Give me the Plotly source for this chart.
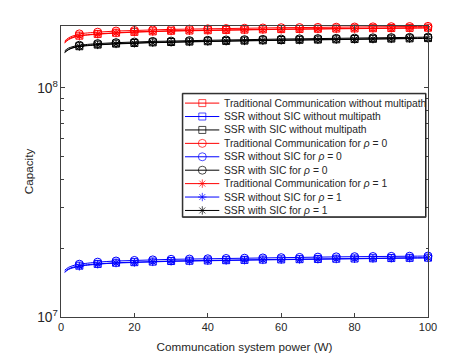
import plotly.graph_objects as go

# x positions (W)
power = [1, 2, 3, 4, 5, 10, 15, 20, 25, 30, 35, 40, 45, 50, 55, 60, 65, 70, 75, 80, 85, 90, 95, 100]

# Traditional communication (x1e8)
trad_nomp = [1.58, 1.63, 1.66, 1.68, 1.69, 1.72, 1.74, 1.755, 1.765, 1.775, 1.78, 1.785, 1.79, 1.795, 1.80, 1.805, 1.808, 1.811, 1.815, 1.818, 1.821, 1.824, 1.827, 1.83]
trad_rho0 = [1.60, 1.65, 1.68, 1.70, 1.72, 1.75, 1.77, 1.78, 1.79, 1.80, 1.805, 1.81, 1.815, 1.82, 1.825, 1.83, 1.833, 1.836, 1.84, 1.843, 1.846, 1.849, 1.852, 1.855]
trad_rho1 = [1.57, 1.62, 1.65, 1.67, 1.685, 1.715, 1.735, 1.75, 1.76, 1.77, 1.775, 1.78, 1.785, 1.79, 1.795, 1.80, 1.803, 1.806, 1.81, 1.813, 1.816, 1.819, 1.822, 1.825]

# SSR with SIC (x1e8)
sic_nomp = [1.43, 1.47, 1.495, 1.51, 1.52, 1.545, 1.56, 1.57, 1.58, 1.585, 1.592, 1.598, 1.603, 1.608, 1.613, 1.617, 1.621, 1.625, 1.629, 1.633, 1.637, 1.641, 1.645, 1.649]
sic_rho0 = [1.45, 1.49, 1.51, 1.525, 1.535, 1.56, 1.575, 1.585, 1.595, 1.60, 1.607, 1.613, 1.618, 1.623, 1.628, 1.633, 1.637, 1.641, 1.645, 1.649, 1.653, 1.657, 1.661, 1.665]
sic_rho1 = [1.425, 1.465, 1.49, 1.505, 1.515, 1.54, 1.555, 1.565, 1.575, 1.58, 1.587, 1.593, 1.598, 1.603, 1.608, 1.612, 1.616, 1.62, 1.624, 1.628, 1.632, 1.636, 1.64, 1.644]

# SSR without SIC (x1e7)
nosic_nomp = [1.575, 1.62, 1.645, 1.66, 1.675, 1.705, 1.725, 1.735, 1.745, 1.755, 1.76, 1.765, 1.77, 1.775, 1.78, 1.784, 1.788, 1.792, 1.796, 1.80, 1.804, 1.808, 1.812, 1.815]
nosic_rho0 = [1.60, 1.645, 1.67, 1.69, 1.70, 1.735, 1.755, 1.765, 1.775, 1.785, 1.79, 1.795, 1.80, 1.805, 1.81, 1.815, 1.82, 1.825, 1.83, 1.833, 1.836, 1.839, 1.842, 1.845]
nosic_rho1 = [1.565, 1.61, 1.635, 1.65, 1.665, 1.70, 1.72, 1.73, 1.74, 1.75, 1.755, 1.76, 1.765, 1.77, 1.775, 1.779, 1.783, 1.787, 1.791, 1.795, 1.799, 1.803, 1.807, 1.81]

series = [
    ("Traditional Communication without multipath", trad_nomp, 1e8, "#ff0000", "square-open"),
    ("SSR without SIC without multipath", nosic_nomp, 1e7, "#0000ff", "square-open"),
    ("SSR with SIC without multipath", sic_nomp, 1e8, "#000000", "square-open"),
    ("Traditional Communication for <i>ρ</i> = 0", trad_rho0, 1e8, "#ff0000", "circle-open"),
    ("SSR without SIC for <i>ρ</i> = 0", nosic_rho0, 1e7, "#0000ff", "circle-open"),
    ("SSR with SIC for <i>ρ</i> = 0", sic_rho0, 1e8, "#000000", "circle-open"),
    ("Traditional Communication for <i>ρ</i> = 1", trad_rho1, 1e8, "#ff0000", "asterisk-open"),
    ("SSR without SIC for <i>ρ</i> = 1", nosic_rho1, 1e7, "#0000ff", "asterisk-open"),
    ("SSR with SIC for <i>ρ</i> = 1", sic_rho1, 1e8, "#000000", "asterisk-open"),
]

FONT = "Liberation Sans, Arial, sans-serif"
TXT = "#262626"


def msize(sym):
    return 8 if sym == "circle-open" else 7


fig = go.Figure()
for name, vals, scale, color, sym in series:
    y = [v * scale for v in vals]
    fig.add_trace(go.Scatter(x=power, y=y, mode="lines", line=dict(color=color, width=1, shape="spline"),
                             showlegend=False, hoverinfo="skip", cliponaxis=False))
    xm = [p for p in power if p % 5 == 0]
    ym = [v for p, v in zip(power, y) if p % 5 == 0]
    fig.add_trace(go.Scatter(x=xm, y=ym, mode="markers", name=name, showlegend=False, cliponaxis=False,
                             marker=dict(symbol=sym, size=msize(sym), color=color,
                                         line=dict(color=color, width=1))))

# plot area: page x 61..428, y 26..317 (page has an 8px body margin)
PW, PH = 367.0, 291.0
L, T = 53, 18

# ---- compact legend box (MATLAB style), auxiliary axis in pixel units ----
BOX_W, BOX_H = 243.7, 124.0
PAD = 2.0
bx0 = (182.3 - 8 - L) / PW
bx1 = min(1.0, (426.0 - 8 - L) / PW)
by1 = 1 - (93.3 - 8 - T) / PH
by0 = 1 - (217.3 - 8 - T) / PH
fig.add_shape(type="rect", xref="paper", yref="paper", x0=bx0, x1=bx1, y0=by0, y1=by1,
              line=dict(color=TXT, width=1), layer="above")
fig.add_trace(go.Scatter(x=[0.5, BOX_W - 0.5, BOX_W - 0.5, 0.5, 0.5],
                         y=[0.5, 0.5, BOX_H - 0.5, BOX_H - 0.5, 0.5], mode="lines",
                         line=dict(color=TXT, width=1), xaxis="x2", yaxis="y2",
                         showlegend=False, hoverinfo="skip"))
row0, rowstep = 9.8, 13.42
for i, (name, vals, scale, color, sym) in enumerate(series):
    ry = row0 + i * rowstep
    fig.add_trace(go.Scatter(x=[2.7, 20, 37], y=[ry, ry, ry], mode="lines+markers",
                             line=dict(color=color, width=1),
                             marker=dict(symbol=sym, size=[0, msize(sym), 0], color=color,
                                         line=dict(color=color, width=1)),
                             xaxis="x2", yaxis="y2", showlegend=False, hoverinfo="skip"))
    fig.add_annotation(x=40, y=ry, xref="x2", yref="y2", text=name, showarrow=False,
                       xanchor="left", yanchor="middle", font=dict(family=FONT, size=10.3, color=TXT))

axis_common = dict(showline=True, linecolor="#404040", linewidth=1, mirror="ticks", ticks="inside",
                   ticklen=4, tickcolor="#404040", showgrid=False, zeroline=False, automargin=False,
                   tickfont=dict(family=FONT, size=11, color=TXT))

x0 = max(0.0, (182.3 - 8 - L - PAD) / PW)
x1 = min(1.0, (426.0 - 8 - L + PAD) / PW)
y1 = min(1.0, 1 - (93.3 - 8 - T - PAD) / PH)
y0 = max(0.0, 1 - (217.3 - 8 - T + PAD) / PH)

fig.update_layout(
    width=474, height=355,
    margin=dict(l=L, r=474 - L - int(PW), t=T, b=355 - T - int(PH)),
    paper_bgcolor="white", plot_bgcolor="rgba(0,0,0,0)",
    font=dict(family=FONT, size=11, color=TXT),
    showlegend=False,
    xaxis=dict(range=[0, 100], dtick=20, title=dict(text="Communcation system power (W)", standoff=10,
               font=dict(size=11.7)), **axis_common),
    yaxis=dict(type="log", range=[7, 8.27], dtick=1, exponentformat="power",
               title=dict(text="Capacity", standoff=1, font=dict(size=11.7)),
               minor=dict(ticks="inside", ticklen=2.5, tickcolor="#404040", dtick="D1"), **axis_common),
    xaxis2=dict(domain=[x0, x1], range=[-PAD, BOX_W + PAD], visible=False, fixedrange=True),
    yaxis2=dict(domain=[y0, y1], range=[BOX_H + PAD, -PAD], visible=False, fixedrange=True, anchor="x2"),
)

fig.write_html("out.html")
